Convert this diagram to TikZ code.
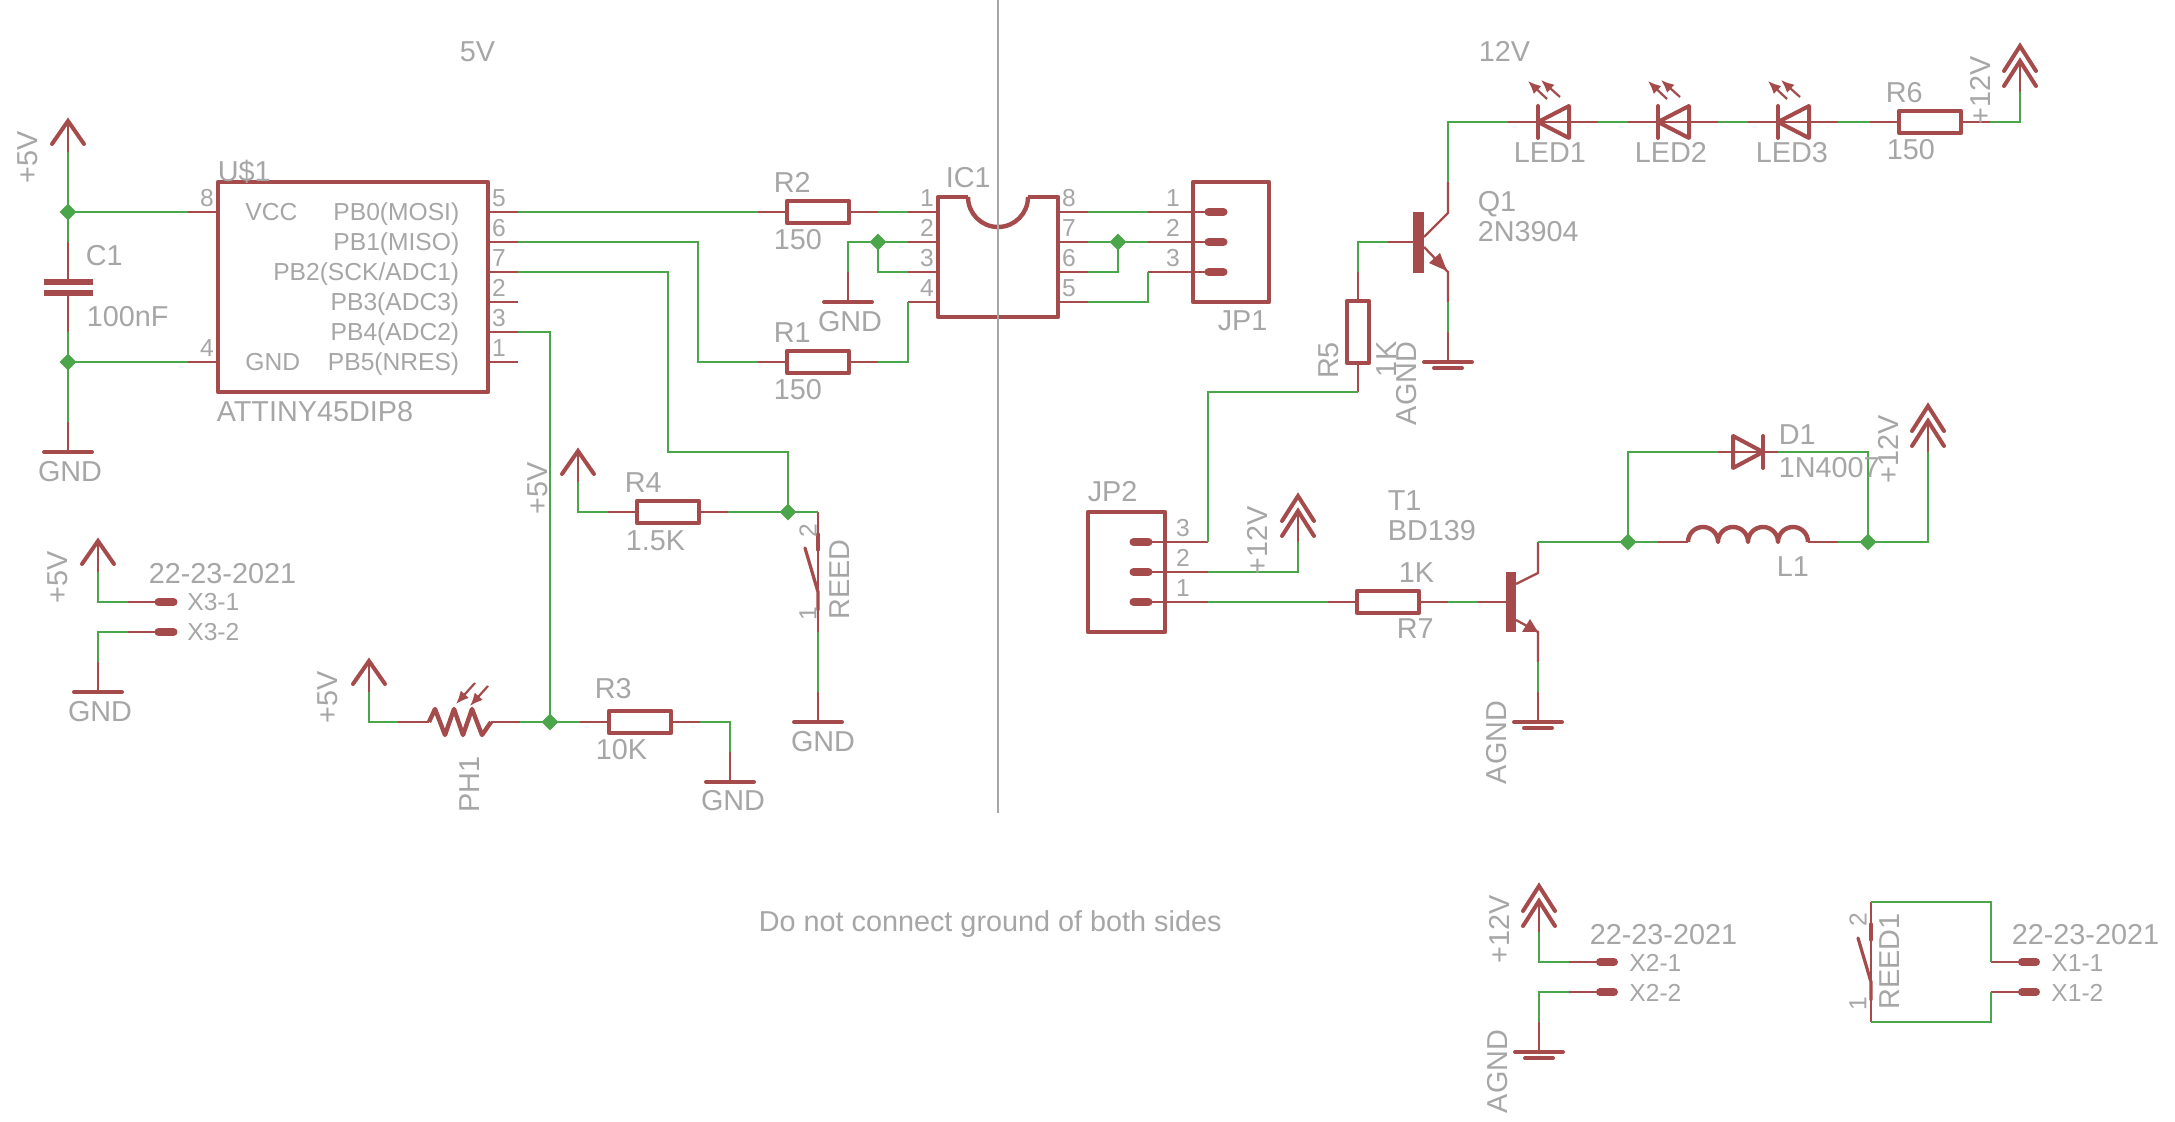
\documentclass[tikz,border=0pt]{standalone}
\usepackage{fontspec}
\setmainfont{Liberation Sans}
\usetikzlibrary{shapes.geometric,arrows.meta}
\definecolor{wirec}{HTML}{4BA54B}
\definecolor{symc}{HTML}{A54B4B}
\definecolor{txtc}{HTML}{A6A6A6}
\tikzset{
  wire/.style={draw=wirec,line width=1.15pt,line join=miter},
  pinl/.style={draw=symc,line width=1.15pt},
  bodyl/.style={draw=symc,line width=2.2pt,line join=round},
  barl/.style={draw=symc,line width=2pt,line cap=round,line join=miter},
  reedl/.style={draw=symc,line width=1.6pt,line cap=round,line join=miter},
  padl/.style={draw=symc,line width=4pt,line cap=round},
  junc/.style={diamond,fill=wirec,inner sep=0pt,minimum size=8.5pt},
  lb/.style={text=txtc,inner sep=0pt,anchor=base west,xshift=-0.8pt,font=\fontsize{14.4}{14.4}\selectfont},
  lbc/.style={text=txtc,inner sep=0pt,anchor=center,font=\fontsize{14.4}{14.4}\selectfont},
  lbr/.style={text=txtc,inner sep=0pt,anchor=center,yshift=-1.2pt,rotate=90,font=\fontsize{14.4}{14.4}\selectfont},
  sm/.style={text=txtc,inner sep=0pt,anchor=base west,xshift=-0.5pt,font=\fontsize{12.3}{12.3}\selectfont},
  sme/.style={text=txtc,inner sep=0pt,anchor=base east,xshift=0.8pt,font=\fontsize{12.3}{12.3}\selectfont},
  num/.style={text=txtc,inner sep=0pt,anchor=base,font=\fontsize{12.3}{12.3}\selectfont},
  numr/.style={text=txtc,inner sep=0pt,anchor=center,rotate=90,font=\fontsize{12.3}{12.3}\selectfont},
  lightarrow/.style={draw=symc,line width=1.1pt,-{Latex[length=6.5pt,width=5.5pt]}},
  respic/.pic={
    \draw[pinl] (-60,0)--(-31,0) (31,0)--(60,0);
    \draw[bodyl] (-31,-11) rectangle (31,11);
    \coordinate (-a) at (-60,0);
    \coordinate (-b) at (60,0);
  },
  gndpic/.pic={
    \draw[pinl] (0,0)--(0,-30);
    \draw[barl] (-24,0)--(24,0);
    \coordinate (-p) at (0,-30);
  },
  agndpic/.pic={
    \draw[pinl] (0,0)--(0,-30);
    \draw[barl] (-24,0)--(24,0);
    \draw[barl] (-14,6)--(14,6);
    \coordinate (-p) at (0,-30);
  },
  supa/.pic={
    \draw[pinl] (0,0)--(0,31);
    \draw[barl] (-16,23)--(0,0)--(16,23);
    \coordinate (-p) at (0,31);
  },
  supb/.pic={
    \draw[pinl] (0,15)--(0,46);
    \draw[barl] (-16,25)--(0,0)--(16,25);
    \draw[barl] (-16,40)--(0,15)--(16,40);
    \coordinate (-p) at (0,46);
  },
  ledpic/.pic={
    \draw[pinl] (-30,0)--(60,0);
    \draw[barl] (0,-16)--(0,16);
    \draw[barl,line join=round] (0,0)--(31,-16)--(31,16)--cycle;
    \draw[lightarrow] (22,-25)--(3,-42);
    \draw[lightarrow] (9,-23)--(-10,-41);
    \coordinate (-a) at (-30,0);
    \coordinate (-b) at (60,0);
  },
  reedpic/.pic={
    \draw[pinl] (0,0)--(0,120);
    \draw[reedl] (0,22)--(0,38);
    \draw[reedl] (-13,36)--(0,80)--(0,98);
    \coordinate (-a) at (0,0);
    \coordinate (-b) at (0,120);
  },
}
\begin{document}
\begin{tikzpicture}[x=0.5pt,y=-0.5pt]
\useasboundingbox (0,0) rectangle (2175,1122);
\fill[white] (0,0) rectangle (2175,1122);

% junctions
\node[junc] (j1) at (68,212) {};
\node[junc] (j2) at (68,362) {};
\node[junc] (j3) at (878,242) {};
\node[junc] (j4) at (1118,242) {};
\node[junc] (j5) at (788,512) {};
\node[junc] (j6) at (550,722) {};
\node[junc] (j7) at (1628,542) {};
\node[junc] (j8) at (1868,542) {};

% ---- symbols
% ATtiny
\coordinate (ua) at (218,182);
\coordinate (ub) at (488,392);
\draw[bodyl] (ua) rectangle (ub);
\coordinate (u8) at (188,212);
\coordinate (u4) at (188,362);
\draw[pinl] (u8)--(218,212) (u4)--(218,362);
\coordinate (u5) at (518,212);
\coordinate (u6) at (518,242);
\coordinate (u7) at (518,272);
\coordinate (u2) at (518,302);
\coordinate (u3) at (518,332);
\coordinate (u1) at (518,362);
\draw[pinl] (488,212)--(u5) (488,242)--(u6) (488,272)--(u7) (488,302)--(u2) (488,332)--(u3) (488,362)--(u1);

% capacitor
\coordinate (c1a) at (68,242);
\coordinate (c1b) at (68,332);
\draw[pinl] (c1a)--(68,282) (68,293)--(c1b);
\draw[draw=symc,line width=3.4pt] (44,282)--(93,282) (44,293)--(93,293);

% supplies and grounds
\pic (s1) at (68,121) {supa};
\pic (g1) at (68,452) {gndpic};
\pic (s2) at (98,541) {supa};
\pic (g2) at (98,692) {gndpic};
\pic (s3) at (578,451) {supa};
\pic (s4) at (369,661) {supa};
\pic (g3) at (730,782) {gndpic};
\pic (g4) at (818,722) {gndpic};
\pic (g5) at (848,302) {gndpic};
\pic (ag1) at (1448,362) {agndpic};
\pic (ag2) at (1538,722) {agndpic};
\pic (ag3) at (1539,1052) {agndpic};
\pic (p1) at (2020,46) {supb};
\pic (p2) at (1298,496) {supb};
\pic (p3) at (1928,406) {supb};
\pic (p4) at (1539,886) {supb};

% resistors
\pic (r2) at (818,212) {respic};
\pic (r1) at (818,362) {respic};
\pic (r4) at (668,512) {respic};
\pic (r3) at (640,722) {respic};
\pic (r6) at (1930,122) {respic};
\pic (r7) at (1388,602) {respic};
\pic[rotate=90] (r5) at (1358,332) {respic};

% IC1
\coordinate (i1) at (908,212);
\coordinate (i2) at (908,242);
\coordinate (i3) at (908,272);
\coordinate (i4) at (908,302);
\draw[pinl] (i1)--(938,212) (i2)--(938,242) (i3)--(938,272) (i4)--(938,302);
\draw[bodyl] (968,197)--(938,197)--(938,317)--(1058,317)--(1058,197)--(1028,197);
\draw[bodyl] (968,197) arc[start angle=180,end angle=360,radius=30,y radius=-30];
\coordinate (i8) at (1088,212);
\coordinate (i7) at (1088,242);
\coordinate (i6) at (1088,272);
\coordinate (i5) at (1088,302);
\draw[pinl] (1058,212)--(i8) (1058,242)--(i7) (1058,272)--(i6) (1058,302)--(i5);

% JP1
\draw[bodyl] (1193,182) rectangle (1269,302);
\coordinate (jp11) at (1148,212);
\coordinate (jp12) at (1148,242);
\coordinate (jp13) at (1148,272);
\draw[pinl] (jp11)--(1210,212) (jp12)--(1210,242) (jp13)--(1210,272);
\draw[padl] (1208.5,212)--(1223.5,212) (1208.5,242)--(1223.5,242) (1208.5,272)--(1223.5,272);

% JP2
\draw[bodyl] (1088,512) rectangle (1165,632);
\coordinate (jp23) at (1208,542);
\coordinate (jp22) at (1208,572);
\coordinate (jp21) at (1208,602);
\draw[pinl] (jp23)--(1148,542) (jp22)--(1148,572) (jp21)--(1148,602);
\draw[padl] (1133.5,542)--(1148.5,542) (1133.5,572)--(1148.5,572) (1133.5,602)--(1148.5,602);

% Q1
\coordinate (qb) at (1388,242);
\coordinate (qc) at (1448,182);
\coordinate (qe) at (1448,302);
\draw[pinl] (qb)--(1413,242);
\fill[symc] (1413,212) rectangle (1424,273);
\draw[pinl] (1424,237)--(1448,213)--(qc);
\draw[pinl] (1424,247)--(1448,272)--(qe);
\fill[symc] (1447,271)--(1429,263)--(1440,253)--cycle;

% T1
\coordinate (tb) at (1478,602);
\coordinate (tc) at (1538,542);
\coordinate (te) at (1538,662);
\draw[pinl] (tb)--(1506,602);
\fill[symc] (1506,572) rectangle (1516,632);
\draw[pinl] (1516,584)--(1538,573)--(tc);
\draw[pinl] (1516,620)--(1538,632)--(te);
\fill[symc] (1538,632)--(1522,632)--(1530,619)--cycle;

% LEDs
\pic (l1) at (1538,122) {ledpic};
\pic (l2) at (1658,122) {ledpic};
\pic (l3) at (1778,122) {ledpic};

% D1
\coordinate (da) at (1718,452);
\coordinate (dc) at (1778,452);
\draw[pinl] (da)--(dc);
\draw[barl] (1763,436)--(1763,468);
\draw[barl,line join=round] (1763,452)--(1733,436)--(1733,468)--cycle;

% L1
\coordinate (la) at (1658,542);
\coordinate (lb) at (1838,542);
\draw[pinl] (la)--(1688,542) (1808,542)--(lb);
\draw[bodyl] (1688,542) arc[start angle=180,end angle=360,radius=15]
  arc[start angle=180,end angle=360,radius=15]
  arc[start angle=180,end angle=360,radius=15]
  arc[start angle=180,end angle=360,radius=15];

% PH1
\coordinate (pha) at (398,722);
\coordinate (phb) at (520,722);
\draw[pinl] (pha)--(429,722) (491,722)--(phb);
\draw[bodyl] (429,722)--(435,709)--(445,735)--(454,709)--(463,735)--(472,709)--(482,735)--(491,722);
\draw[lightarrow] (475,683)--(456,704);
\draw[lightarrow] (488,686)--(470,706);

% reed switches
\pic (rd) at (818,512) {reedpic};
\pic (rd1) at (1871,902) {reedpic};

% connectors X
\coordinate (x31) at (128,602);
\coordinate (x32) at (128,632);
\draw[pinl] (x31)--(158,602) (x32)--(158,632);
\draw[padl] (158.5,602)--(173.5,602) (158.5,632)--(173.5,632);
\coordinate (x21) at (1569,962);
\coordinate (x22) at (1569,992);
\draw[pinl] (x21)--(1600,962) (x22)--(1600,992);
\draw[padl] (1600,962)--(1614,962) (1600,992)--(1614,992);
\coordinate (x11) at (1991,962);
\coordinate (x12) at (1991,992);
\draw[pinl] (x11)--(2022,962) (x12)--(2022,992);
\draw[padl] (2022,962)--(2036,962) (2022,992)--(2036,992);

% ---- wires
\draw[wire] (s1-p)--(j1.center)--(c1a);
\draw[wire] (j1.center)--(u8);
\draw[wire] (c1b)--(j2.center)--(g1-p);
\draw[wire] (j2.center)--(u4);
\draw[wire] (s2-p)--(98,602)--(x31);
\draw[wire] (x32)--(98,632)--(g2-p);
\draw[wire] (u5)--(r2-a);
\draw[wire] (r2-b)--(i1);
\draw[wire] (u6)--(698,242)--(698,362)--(r1-a);
\draw[wire] (r1-b)--(908,362)--(i4);
\draw[wire] (u7)--(668,272)--(668,452)--(788,452)--(j5.center);
\draw[wire] (u3)--(550,332)--(j6.center);
\draw[wire] (g5-p)--(848,242)--(i2);
\draw[wire] (j3.center)--(878,272)--(i3);
\draw[wire] (s3-p)--(578,512)--(r4-a);
\draw[wire] (r4-b)--(rd-a);
\draw[wire] (rd-b)--(g4-p);
\draw[wire] (s4-p)--(369,722)--(pha);
\draw[wire] (phb)--(r3-a);
\draw[wire] (r3-b)--(730,722)--(g3-p);
\draw[wire] (i8)--(jp11);
\draw[wire] (i7)--(jp12);
\draw[wire] (j4.center)--(1118,272)--(i6);
\draw[wire] (i5)--(1148,302)--(jp13);
\draw[wire] (qb)--(1358,242)--(r5-b);
\draw[wire] (r5-a)--(1358,392)--(1208,392)--(jp23);
\draw[wire] (jp22)--(1298,572)--(p2-p);
\draw[wire] (jp21)--(r7-a);
\draw[wire] (r7-b)--(tb);
\draw[wire] (qc)--(1448,122)--(l1-a);
\draw[wire] (qe)--(ag1-p);
\draw[wire] (l1-b)--(l2-a);
\draw[wire] (l2-b)--(l3-a);
\draw[wire] (l3-b)--(r6-a);
\draw[wire] (r6-b)--(2020,122)--(p1-p);
\draw[wire] (tc)--(j7.center)--(la);
\draw[wire] (j7.center)--(1628,452)--(da);
\draw[wire] (dc)--(1868,452)--(j8.center);
\draw[wire] (lb)--(j8.center)--(1928,542)--(p3-p);
\draw[wire] (te)--(ag2-p);
\draw[wire] (p4-p)--(1539,962)--(x21);
\draw[wire] (x22)--(1539,992)--(ag3-p);
\draw[wire] (rd1-a)--(1991,902)--(x11);
\draw[wire] (rd1-b)--(1991,1022)--(x12);

% divider
\draw[draw=txtc,line width=1pt] (998,0)--(998,813);

% ---- texts
\node[lb] (tv5) at (461,62) {5V};
\node[lb] (tv12) at (1480,62) {12V};
\node[lb] (tnote) at (760,931) {Do not connect ground of both sides};
\node[lbr] (ts1) at (28,155) {+5V};
\node[lb] (tu1) at (219,182) {U\$1};
\node[lb] (tatt) at (218,422) {ATTINY45DIP8};
\node[lb] (tc1) at (87,266) {C1};
\node[lb] (tc1v) at (88,327) {100nF};
\node[lbc] (tg1) at (70,472) {GND};
\node[sm] (tvcc) at (246,221) {VCC};
\node[sm] (tgnd) at (246,371) {GND};
\node[sme] (tpb0) at (458,221) {PB0(MOSI)};
\node[sme] (tpb1) at (458,251) {PB1(MISO)};
\node[sme] (tpb2) at (458,281) {PB2(SCK/ADC1)};
\node[sme] (tpb3) at (458,311) {PB3(ADC3)};
\node[sme] (tpb4) at (458,341) {PB4(ADC2)};
\node[sme] (tpb5) at (458,371) {PB5(NRES)};
\node[num] (n8) at (207,207) {8};
\node[num] (n4) at (207,357) {4};
\node[num] (n5) at (499,207) {5};
\node[num] (n6) at (499,237) {6};
\node[num] (n7) at (499,267) {7};
\node[num] (n2) at (499,297) {2};
\node[num] (n3) at (499,327) {3};
\node[num] (n1) at (499,357) {1};
\node[lbr] (ts2) at (58,575) {+5V};
\node[lb] (tx3) at (150,584) {22-23-2021};
\node[sm] (tx31) at (188,611) {X3-1};
\node[sm] (tx32) at (188,641) {X3-2};
\node[lbc] (tg2) at (100,712) {GND};
\node[lb] (tr2) at (775,193) {R2};
\node[lb] (tr2v) at (775,250) {150};
\node[lb] (tr1) at (775,343) {R1};
\node[lb] (tr1v) at (775,400) {150};
\node[lbc] (tg5) at (850,322) {GND};
\node[lb] (tic) at (947,188) {IC1};
\node[num] (i1n) at (927,207) {1};
\node[num] (i2n) at (927,237) {2};
\node[num] (i3n) at (927,267) {3};
\node[num] (i4n) at (927,297) {4};
\node[num] (i8n) at (1069,207) {8};
\node[num] (i7n) at (1069,237) {7};
\node[num] (i6n) at (1069,267) {6};
\node[num] (i5n) at (1069,297) {5};
\node[num] (j1n) at (1173,207) {1};
\node[num] (j2n) at (1173,237) {2};
\node[num] (j3n) at (1173,267) {3};
\node[lb] (tjp1) at (1219,331) {JP1};
\node[lbr] (ts3) at (538,486) {+5V};
\node[lbr] (ts4) at (328,695) {+5V};
\node[lb] (tr4) at (626,493) {R4};
\node[lb] (tr4v) at (627,551) {1.5K};
\node[lb] (tr3) at (596,699) {R3};
\node[lb] (tr3v) at (597,760) {10K};
\node[lbr] (tph) at (470,782) {PH1};
\node[lbc] (tg3) at (733,801) {GND};
\node[lbc] (tg4) at (823,742) {GND};
\node[numr] (rn2) at (808,531) {2};
\node[numr] (rn1) at (808,614) {1};
\node[lbr] (treed) at (840,577) {REED};
\node[lb] (tq1) at (1479,212) {Q1};
\node[lb] (tq1v) at (1479,242) {2N3904};
\node[lbr] (tr5) at (1329,358) {R5};
\node[lbr] (tr5v) at (1387,357) {1K};
\node[lbr] (tag1) at (1407,381) {AGND};
\node[lb] (tl1) at (1515,163) {LED1};
\node[lb] (tl2) at (1636,163) {LED2};
\node[lb] (tl3) at (1757,163) {LED3};
\node[lb] (tr6) at (1887,103) {R6};
\node[lb] (tr6v) at (1888,160) {150};
\node[lbr] (tp1) at (1980,88) {+12V};
\node[lb] (tjp2) at (1089,502) {JP2};
\node[num] (jb3) at (1183,537) {3};
\node[num] (jb2) at (1183,567) {2};
\node[num] (jb1) at (1183,597) {1};
\node[lbr] (tp2) at (1257,538) {+12V};
\node[lb] (tt1) at (1389,511) {T1};
\node[lb] (tt1v) at (1389,541) {BD139};
\node[lb] (tr7v) at (1400,583) {1K};
\node[lb] (tr7) at (1398,639) {R7};
\node[lbr] (tag2) at (1497,740) {AGND};
\node[lb] (td1) at (1780,445) {D1};
\node[lb] (td1v) at (1780,478) {1N4007};
\node[lb] (tl1n) at (1778,577) {L1};
\node[lbr] (tp3) at (1888,447) {+12V};
\node[lbr] (tp4) at (1499,927) {+12V};
\node[lbr] (tag3) at (1498,1069) {AGND};
\node[lb] (tx2) at (1591,944) {22-23-2021};
\node[sm] (tx21) at (1630,971) {X2-1};
\node[sm] (tx22) at (1630,1001) {X2-2};
\node[numr] (rd2) at (1858,920) {2};
\node[numr] (rd1n) at (1858,1004) {1};
\node[lbr] (treed1) at (1890,959) {REED1};
\node[lb] (tx1) at (2013,944) {22-23-2021};
\node[sm] (tx11) at (2052,971) {X1-1};
\node[sm] (tx12) at (2052,1001) {X1-2};
\end{tikzpicture}
\end{document}
